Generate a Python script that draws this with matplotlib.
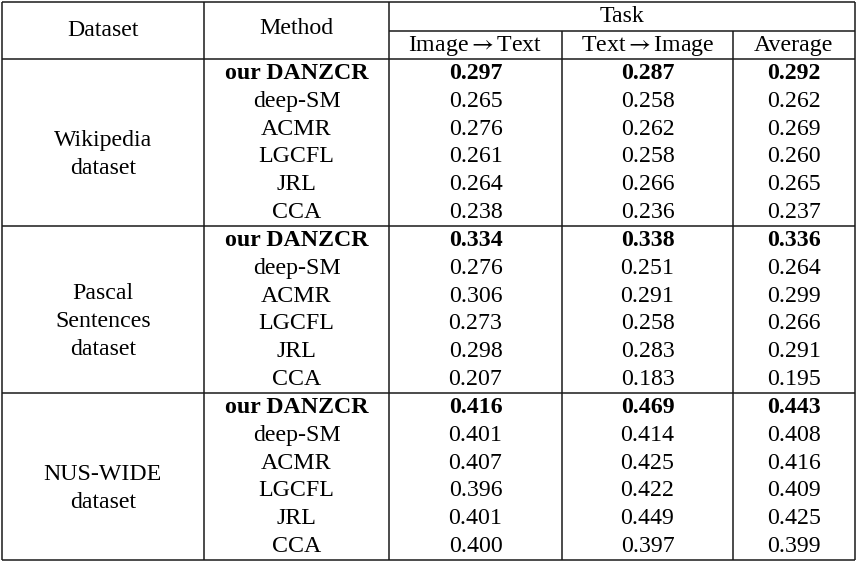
import numpy as np
import matplotlib.pyplot as plt

plt.rcParams['font.family'] = ['Liberation Serif', 'DejaVu Serif']
plt.rcParams['mathtext.fontset'] = 'stix'

datasets = ['Wikipedia\ndataset', 'Pascal\nSentences\ndataset', 'NUS-WIDE\ndataset']
methods = ['our DANZCR', 'deep-SM', 'ACMR', 'LGCFL', 'JRL', 'CCA']
columns = ['Image$\\rightarrow$Text', 'Text$\\rightarrow$Image', 'Average']

wiki = [[0.297, 0.287, 0.292],
        [0.265, 0.258, 0.262],
        [0.276, 0.262, 0.269],
        [0.261, 0.258, 0.260],
        [0.264, 0.266, 0.265],
        [0.238, 0.236, 0.237]]
pascal = [[0.334, 0.338, 0.336],
          [0.276, 0.251, 0.264],
          [0.306, 0.291, 0.299],
          [0.273, 0.258, 0.266],
          [0.298, 0.283, 0.291],
          [0.207, 0.183, 0.195]]
nus = [[0.416, 0.469, 0.443],
       [0.401, 0.414, 0.408],
       [0.407, 0.425, 0.416],
       [0.396, 0.422, 0.409],
       [0.401, 0.449, 0.425],
       [0.400, 0.397, 0.399]]
scores = [wiki, pascal, nus]

fig = plt.figure(figsize=(8.6, 5.65), dpi=100)
ax = fig.add_axes([0, 0, 1, 1])
ax.set_xlim(0, 860)
ax.set_ylim(565, 0)
ax.axis('off')

# table grid (pixel layout)
x_left, x_right = 1.5, 854.5
x_ds, x_m = 204, 389
x_cols = [389, 562, 733, 854.5]
y_top, y_sub, y_head = 2, 31, 59
y_blocks = [59, 226, 393, 560]
row_h = (226 - 59) / 6

lc = '#1a1a1a'
lw = 1.1
ax.hlines([y_top, y_head], x_left, x_right, color=lc, lw=lw)
ax.hlines(y_blocks[1:], x_left, x_right, color=lc, lw=lw)
ax.hlines(y_sub, x_m, x_right, color=lc, lw=lw)
ax.vlines([x_left, x_ds, x_m, x_right], y_top, y_blocks[-1], color=lc, lw=lw)
ax.vlines(x_cols[1:3], y_sub, y_blocks[-1], color=lc, lw=lw)

fs = 17.2
ax.text((x_left + x_ds) / 2, 30, 'Dataset', ha='center', va='center', fontsize=fs)
ax.text((x_ds + x_m) / 2, 29, 'Method', ha='center', va='center', fontsize=fs)
ax.text((x_m + x_right) / 2, 16, 'Task', ha='center', va='center', fontsize=fs)
for j, col in enumerate(columns):
    ax.text((x_cols[j] + x_cols[j + 1]) / 2, 51, col, ha='center', va='baseline', fontsize=fs)

for b, (name, block) in enumerate(zip(datasets, scores)):
    y0 = y_blocks[b]
    yc = (y_blocks[b] + y_blocks[b + 1]) / 2 + 12
    ax.text((x_left + x_ds) / 2, yc, name, ha='center', va='center', fontsize=fs,
            linespacing=1.42, multialignment='center')
    for i, (m, vals) in enumerate(zip(methods, block)):
        y = y0 + row_h * (i + 0.5) + 0.5
        weight = 'bold' if i == 0 else 'normal'
        ax.text((x_ds + x_m) / 2, y, m, ha='center', va='center', fontsize=fs, fontweight=weight)
        for j, v in enumerate(vals):
            ax.text((x_cols[j] + x_cols[j + 1]) / 2, y, f'{v:.3f}', ha='center', va='center',
                    fontsize=fs, fontweight=weight)

fig.savefig('out.png', dpi=100)
